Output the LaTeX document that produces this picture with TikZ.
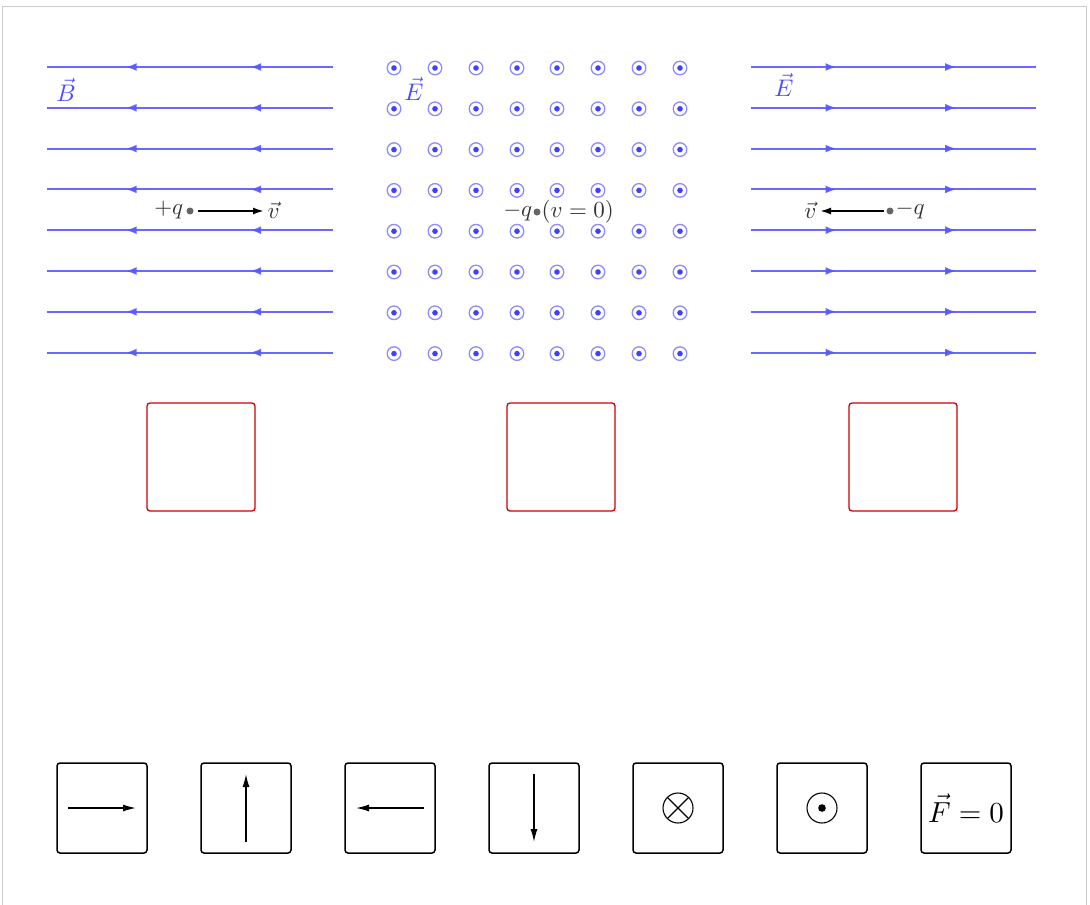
\documentclass[tikz,border=0pt]{standalone}
\usepackage{graphicx}
\usetikzlibrary{arrows.meta,decorations.markings}
\newcommand{\bigT}[2]{\scalebox{#1}{#2}}
\begin{document}
\begin{tikzpicture}[x=1pt,y=-1pt,
  fl/.style={draw=blue!65,line width=2pt,opacity=0.9},
  lefta/.style={fl,postaction={decorate},decoration={markings,
    mark=at position 0.29 with {\arrow{Latex[length=11pt,width=8pt]}},
    mark=at position 0.725 with {\arrow{Latex[length=11pt,width=8pt]}}}},
  righta/.style={fl,postaction={decorate},decoration={markings,
    mark=at position 0.3 with {\arrow{Latex[length=11pt,width=8pt]}},
    mark=at position 0.72 with {\arrow{Latex[length=11pt,width=8pt]}}}},
  ans/.style={draw=red!80!black,line width=1.3pt,rounded corners=3pt,minimum size=108pt,inner sep=0pt},
  opt/.style={draw=black,line width=1.5pt,rounded corners=3pt,minimum size=90pt,inner sep=0pt},
  lab/.style={text=blue!70,inner sep=0pt},
  txt/.style={text=black!80,inner sep=0.5pt}]
\useasboundingbox (0,0) rectangle (1090,905);
\draw[black!20] (2,6) rectangle (1086,905);
\foreach \y in {67,107.8,148.6,189.4,230.2,271,311.8,352.6}{
  \draw[lefta] (333,\y) -- (47,\y);
  \draw[righta] (751,\y) -- (1036,\y);
}
\foreach \x in {394,435,476,517,557,598,639,680}
 \foreach \y in {68,108.8,149.6,190.4,231.2,272,312.8,353.6}{
  \draw[blue!45,line width=1.3pt] (\x,\y) circle (6.8);
  \fill[blue!75] (\x,\y) circle (2.8);
 }
\node[lab] (B) at (66,90) {\bigT{2.4}{$\vec B$}};
\node[lab] (E1) at (414,89) {\bigT{2.4}{$\vec E$}};
\node[lab] (E2) at (784,85) {\bigT{2.4}{$\vec E$}};
% left charge
\fill[black!60] (190,211) circle (3.5) coordinate (c1);
\node[txt,anchor=east] (q1) at (184,210) {\bigT{2.3}{$+q$}};
\node[txt,anchor=west] (v1) at (267,210) {\bigT{2.3}{$\vec v$}};
\draw[-{Latex[length=11pt,width=7pt]},line width=1.8pt] (198,211) -- (264,211);
% middle
\node[txt,anchor=east] (q2) at (533,212) {\bigT{2.3}{$-q$}};
\fill[black!60] (537,212) circle (3.5);
\node[txt,anchor=west] (v2) at (541,212) {\bigT{2.3}{$(v=0)$}};
% right
\fill[black!60] (890,211) circle (3.5);
\node[txt,anchor=west] (q3) at (895,210) {\bigT{2.3}{$-q$}};
\node[txt,anchor=east] (v3) at (817,210) {\bigT{2.3}{$\vec v$}};
\draw[-{Latex[length=11pt,width=7pt]},line width=1.8pt] (884,211) -- (820,211);
% answer boxes
\node[ans] (a1) at (201,457) {};
\node[ans] (a2) at (561,457) {};
\node[ans] (a3) at (903,457) {};
% options
\foreach \i/\x in {1/102,2/246,3/390,4/534,5/678,6/822,7/966}
  \node[opt] (o\i) at (\x,808) {};
\tikzset{oa/.style={-{Latex[length=13pt,width=7pt]},line width=1.4pt}}
\draw[oa] ([xshift=-34pt]o1.center) -- ([xshift=34pt]o1.center);
\draw[oa] ([yshift=-34pt]o2.center) -- ([yshift=34pt]o2.center);
\draw[oa] ([xshift=34pt]o3.center) -- ([xshift=-34pt]o3.center);
\draw[oa] ([yshift=34pt]o4.center) -- ([yshift=-34pt]o4.center);
\draw[line width=1.1pt] (o5.center) circle (15);
\draw[line width=1.1pt] ([shift={(-10.6,-10.6)}]o5.center) -- ([shift={(10.6,10.6)}]o5.center);
\draw[line width=1.1pt] ([shift={(-10.6,10.6)}]o5.center) -- ([shift={(10.6,-10.6)}]o5.center);
\draw[line width=1.1pt] (o6.center) circle (15);
\fill (o6.center) circle (3.8);
\node[inner sep=0pt] (F) at (o7.center) {\bigT{2.9}{$\vec F=0$}};
\end{tikzpicture}
\end{document}
